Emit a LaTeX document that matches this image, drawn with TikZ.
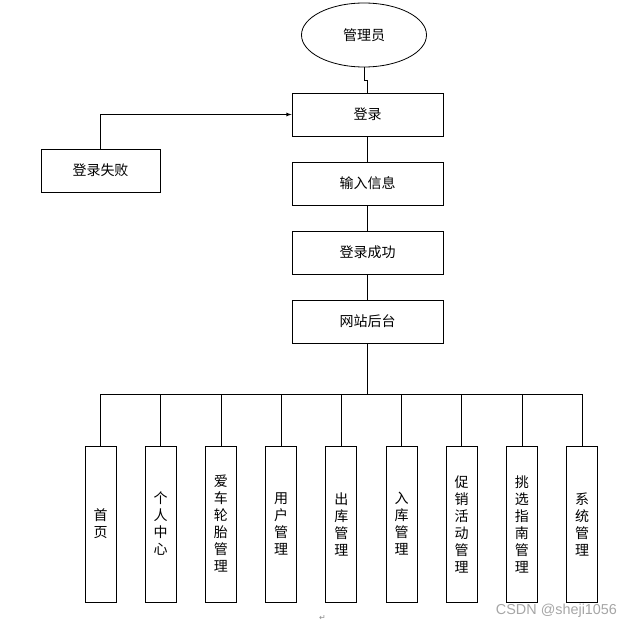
\documentclass[tikz,border=0pt]{standalone}
\usepackage{fontspec}
\setmainfont{Noto Sans CJK SC}
\newfontfamily\marksfont{Liberation Sans}
\newfontfamily\symfont{DejaVu Sans}
\usetikzlibrary{shapes.geometric,positioning}

\begin{document}
\begin{tikzpicture}[>=latex, x=1pt, y=-1pt, node distance=69pt]
	\tikzstyle{format} = [draw, line width=0.8pt, rectangle, minimum width=151pt,
	minimum height=43pt, inner sep=0pt, font=\fontsize{14}{17}\selectfont]
	\tikzstyle{module} = [draw, line width=0.8pt, rectangle, minimum width=31pt,
	minimum height=156pt, inner sep=0pt, align=center,
	font=\fontsize{14}{17}\selectfont]

	\useasboundingbox (0,0) rectangle (633,626);

	\begin{scope}
		\path[line width=0.8pt]
			node[draw, ellipse, line width=0.8pt, minimum width=125pt,
				minimum height=64pt, font=\fontsize{14}{17}\selectfont]
				(admin) at (364,35) {管理员}

			node[format] (login) at (367.5,114.5) {登录}
			node[format, below of=login] (input) {输入信息}
			node[format, below of=input] (success) {登录成功}
			node[format, below of=success] (backend) {网站后台}

			node[format, minimum width=119pt] (fail) at (100.5,170.5) {登录失败}

			coordinate (bus) at (367.5,394)

			node[module] (M1) at (100.5,524) {首\\页}
			node[module, right of=M1, node distance=60.2pt] (M2) {个\\人\\中\\心}
			node[module, right of=M2, node distance=60.2pt] (M3) {爱\\车\\轮\\胎\\管\\理}
			node[module, right of=M3, node distance=60.2pt] (M4) {用\\户\\管\\理}
			node[module, right of=M4, node distance=60.2pt] (M5) {出\\库\\管\\理}
			node[module, right of=M5, node distance=60.2pt] (M6) {入\\库\\管\\理}
			node[module, right of=M6, node distance=60.2pt] (M7) {促\\销\\活\\动\\管\\理}
			node[module, right of=M7, node distance=60.2pt] (M8) {挑\\选\\指\\南\\管\\理}
			node[module, right of=M8, node distance=60.2pt] (M9) {系\\统\\管\\理}

			(login) edge (input)
			(input) edge (success)
			(success) edge (backend)
			(backend) edge (bus)
		;

		\draw[line width=0.8pt] (admin.south) -- ++(0,13) -| (login.north);
		\draw[->, line width=0.8pt] (fail.north) |- (login.west);

		\draw[line width=0.8pt] (M1.north) |- (bus);
		\draw[line width=0.8pt] (M2.north) |- (bus);
		\draw[line width=0.8pt] (M3.north) |- (bus);
		\draw[line width=0.8pt] (M4.north) |- (bus);
		\draw[line width=0.8pt] (M5.north) |- (bus);
		\draw[line width=0.8pt] (M6.north) |- (bus);
		\draw[line width=0.8pt] (M7.north) |- (bus);
		\draw[line width=0.8pt] (M8.north) |- (bus);
		\draw[line width=0.8pt] (M9.north) |- (bus);
	\end{scope}

	% watermark and return mark
	\node[anchor=base, text=black!35, font=\marksfont\fontsize{14.4}{16}\selectfont,
		inner sep=0pt] (mark) at (556.5,614) {CSDN @sheji1056};
	\node[text=black!45, font=\symfont\fontsize{8}{9}\selectfont, inner sep=0pt]
		(ret) at (322.5,617.5) {↵};
\end{tikzpicture}
\end{document}
